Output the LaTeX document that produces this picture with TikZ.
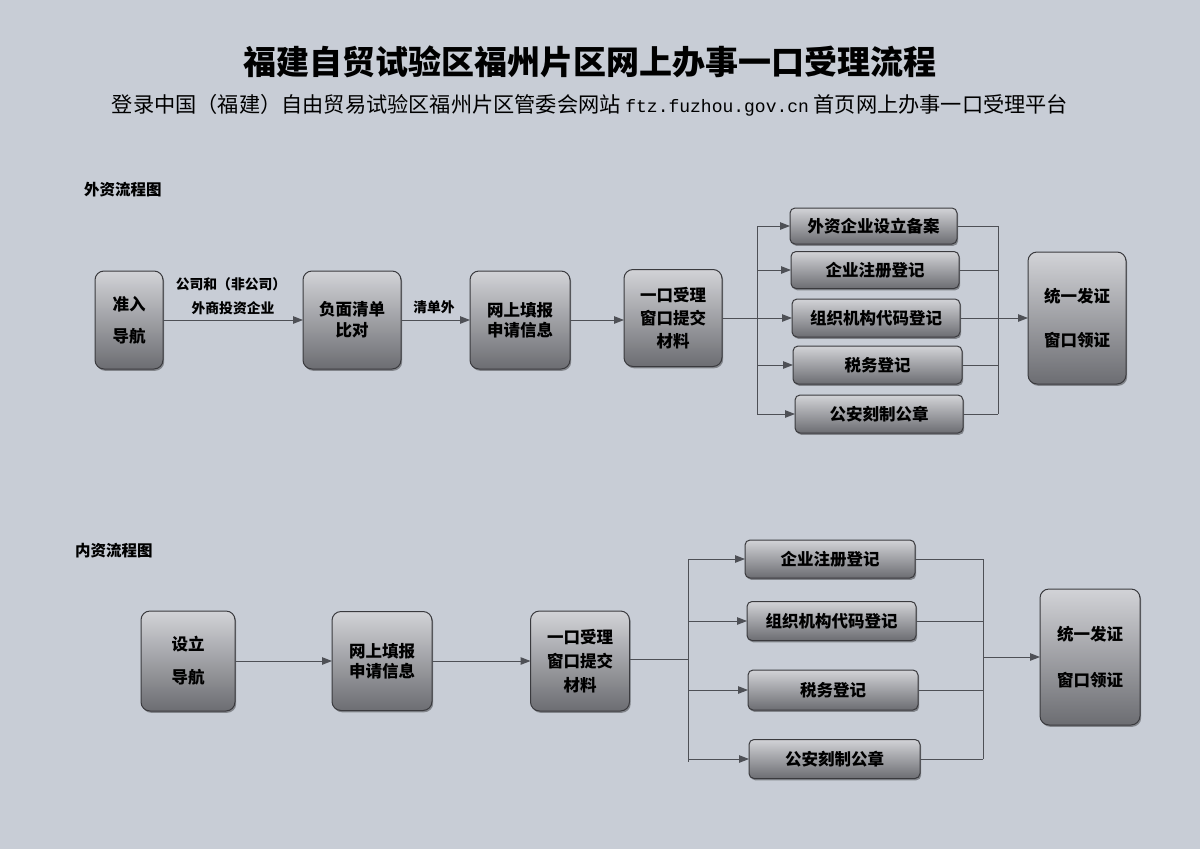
\documentclass[tikz,border=0pt]{standalone}
\usepackage{fontspec}
\setmainfont{Noto Sans CJK SC}
\newfontfamily\monof{Liberation Mono}
\usetikzlibrary{shadows,arrows.meta}
\definecolor{paper}{RGB}{200,205,214}
\definecolor{boxtop}{RGB}{210,211,215}
\definecolor{boxbot}{RGB}{108,109,114}
\definecolor{edge}{RGB}{58,58,62}
\definecolor{linec}{RGB}{78,80,86}
\tikzset{
  box/.style={draw=edge, line width=1pt, rounded corners=9pt, top color=boxtop, bottom color=boxbot,
    inner sep=0pt, outer sep=0pt, align=center, text=black,
    font=\fontsize{16.5}{20}\selectfont\bfseries,
    drop shadow={shadow xshift=1.2pt, shadow yshift=-1.8pt, opacity=0.35, fill=black}},
  sbox/.style={box, rounded corners=5pt},
  conn/.style={draw=linec, line width=1pt},
  arr/.style={conn, -{Triangle[length=10pt,width=7.5pt]}},
  lab/.style={font=\fontsize{13.8}{16}\selectfont\bfseries, text=black, inner sep=0pt},
  head/.style={font=\fontsize{15.5}{16}\selectfont\bfseries, text=black, inner sep=0pt, anchor=west},
}
\begin{document}
\begin{tikzpicture}[x=1pt,y=-1pt]
\fill[paper] (0,0) rectangle (1200,849);
\useasboundingbox (0,0) rectangle (1200,849);

\node[inner sep=0pt] (title) at (590,62) {\fontsize{33}{34}\selectfont\bfseries 福建自贸试验区福州片区网上办事一口受理流程};
\node[inner sep=0pt] (sub) at (590,105) {\fontsize{21.2}{22}\selectfont 登录中国（福建）自由贸易试验区福州片区管委会网站 {\monof\fontsize{18}{20}\selectfont ftz.fuzhou.gov.cn} 首页网上办事一口受理平台};

% ---------- 外资 ----------
\node[head] (h1) at (84,190) {外资流程图};

\node[box, minimum width=68pt, minimum height=98pt] (zr) at (129,320) {准入\\[12pt]导航};
\node[box, minimum width=98pt, minimum height=98pt] (fm) at (352,320) {负面清单\\[1pt]比对};
\node[box, minimum width=100pt, minimum height=98pt] (ws) at (520,320) {网上填报\\申请信息};
\node[box, minimum width=98pt, minimum height=97pt] (yk) at (673,318) {一口受理\\[3pt]窗口提交\\[3pt]材料};

\node[sbox, minimum width=167pt, minimum height=36pt] (r1) at (873.5,226) {外资企业设立备案};
\node[sbox, minimum width=168pt, minimum height=37pt] (r2) at (875,270) {企业注册登记};
\node[sbox, minimum width=168pt, minimum height=38pt] (r3) at (876,318) {组织机构代码登记};
\node[sbox, minimum width=169pt, minimum height=38pt] (r4) at (877.5,365) {税务登记};
\node[sbox, minimum width=168pt, minimum height=38pt] (r5) at (879,414) {公安刻制公章};

\node[box, minimum width=98pt, minimum height=132pt] (tf) at (1077,318) {统一发证\\[24pt]窗口领证};

\draw[arr] (zr.east) -- (fm.west);
\node[lab] (l1) at (231,284) {公司和（非公司）};
\node[lab] (l2) at (233,308) {外商投资企业};
\draw[arr] (fm.east) -- (ws.west);
\node[lab] (l3) at (434,307) {清单外};
\draw[arr] (ws.east) -- (yk.west |- ws.east);

\coordinate (sx) at (757,318);
\coordinate (cx) at (998,318);
\draw[arr] (yk.east) -- (r3.west);
\draw[conn] (sx |- r1.west) -- (sx |- r5.west);
\foreach \n in {r1,r2,r4,r5} { \draw[arr] (sx |- \n.west) -- (\n.west); }
\foreach \n in {r1,r2,r3,r4,r5} { \draw[conn] (\n.east) -- (cx |- \n.east); }
\draw[conn] (cx |- r1.east) -- (cx |- r5.east);
\draw[arr] (cx) -- (tf.west);

% ---------- 内资 ----------
\node[head] (h2) at (75,551) {内资流程图};

\node[box, minimum width=94pt, minimum height=100pt] (sl) at (188,661) {设立\\[13pt]导航};
\node[box, minimum width=100pt, minimum height=99pt] (ws2) at (382,661) {网上填报\\申请信息};
\node[box, minimum width=99pt, minimum height=100pt] (yk2) at (580,661) {一口受理\\[4pt]窗口提交\\[4pt]材料};

\node[sbox, minimum width=170pt, minimum height=38pt] (q1) at (830,559) {企业注册登记};
\node[sbox, minimum width=169pt, minimum height=39pt] (q2) at (831.5,621) {组织机构代码登记};
\node[sbox, minimum width=170pt, minimum height=40pt] (q3) at (833,690) {税务登记};
\node[sbox, minimum width=171pt, minimum height=39pt] (q4) at (834.5,759) {公安刻制公章};

\node[box, minimum width=100pt, minimum height=136pt] (tf2) at (1090,657) {统一发证\\[26pt]窗口领证};

\draw[arr] (sl.east) -- (ws2.west);
\draw[arr] (ws2.east) -- (yk2.west);

\coordinate (dx) at (688,659);
\coordinate (ex) at (983,657);
\coordinate (dxb) at (688,762);
\draw[conn] (yk2.east |- dx) -- (dx);
\draw[conn] (dx |- q1.west) -- (dxb);
\foreach \n in {q1,q2,q3,q4} { \draw[arr] (dx |- \n.west) -- (\n.west); }
\foreach \n in {q1,q2,q3,q4} { \draw[conn] (\n.east) -- (ex |- \n.east); }
\draw[conn] (ex |- q1.east) -- (ex |- q4.east);
\draw[arr] (ex) -- (tf2.west |- ex);
\end{tikzpicture}
\end{document}
